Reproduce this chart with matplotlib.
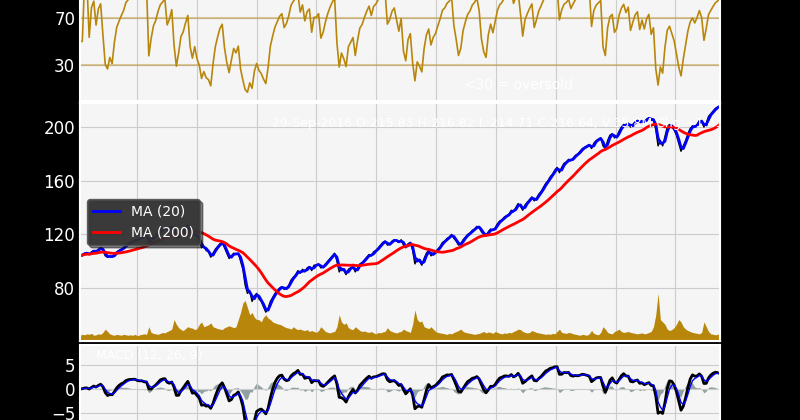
import numpy as np
import pandas as pd
import matplotlib
matplotlib.use("Agg")
import matplotlib.pyplot as plt
import matplotlib.dates as mdates

# Biweekly closes (2006 .. 29-Sep-2016)
close_2006 = [104,105,106,106,105,107,108,107,109,110,108,104,103,104,103,105,107,108,109,110,112,113,114,115,116,116]
close_2007 = [117,118,118,119,114,116,118,119,121,123,124,125,123,124,126,122,117,119,122,123,125,127,122,119,121,118]
close_2008 = [116,110,111,108,107,103,106,109,111,113,114,110,106,102,104,106,105,106,100,94,82,76,78,70,74,76]
close_2009 = [72,70,66,62,65,70,73,76,78,80,81,79,80,82,86,88,90,93,91,94,92,95,96,93,97,97]
close_2010 = [98,95,96,98,100,102,104,106,100,92,95,93,90,94,95,96,92,95,98,99,101,103,105,104,107,108]
close_2011 = [110,112,114,115,112,113,115,116,115,114,116,112,110,113,114,108,98,102,100,97,102,106,108,104,106,107]
close_2012 = [109,111,114,115,117,118,120,117,115,112,113,116,118,120,121,123,124,126,125,122,120,119,122,124,123,125]
close_2013 = [128,130,131,133,134,135,138,137,140,143,141,138,142,144,146,148,145,147,150,152,155,158,160,163,165,168]
close_2014 = [170,166,170,173,174,176,175,177,179,180,182,184,185,186,187,184,188,190,191,192,186,184,190,194,195,192]
close_2015 = [193,197,200,202,201,203,200,202,204,205,203,205,204,206,207,205,206,198,186,190,186,193,200,202,200,198]
close_2016 = [194,188,182,186,190,195,199,201,200,202,205,204,200,203,208,210,212,214,215,216]

vol_2006 = [12,14,13,15,14,16,12,13,15,14,18,25,20,15,13,12,14,13,12,14,13,12,13,12,14,11]
vol_2007 = [13,14,15,14,30,18,16,15,14,16,18,17,20,22,25,45,35,28,24,22,26,30,28,27,24,26]
vol_2008 = [35,40,30,32,34,38,30,28,26,25,24,28,30,32,30,28,30,45,60,80,85,70,55,60,50,45]
vol_2009 = [45,40,50,55,48,45,40,38,36,35,33,30,28,27,25,30,26,24,25,23,22,24,20,22,20,18]
vol_2010 = [22,30,25,20,18,17,19,20,30,55,40,35,38,28,25,24,30,26,22,20,21,19,18,20,17,15]
vol_2011 = [18,17,19,20,28,22,20,18,17,19,20,25,22,20,18,35,65,45,40,42,30,28,26,30,25,20]
vol_2012 = [18,17,16,15,14,16,15,18,20,22,25,20,18,17,16,15,14,15,16,18,20,17,19,18,16,20]
vol_2013 = [18,16,15,17,16,18,17,20,22,25,24,20,18,17,18,22,20,18,17,16,15,14,15,14,16,15]
vol_2014 = [20,25,18,17,16,18,17,15,14,13,12,14,13,12,15,22,16,14,13,18,30,25,18,16,15,20]
vol_2015 = [22,25,20,18,19,20,18,17,16,15,16,17,15,16,18,20,30,55,100,45,40,35,25,22,24,28]
vol_2016 = [35,45,40,30,25,22,20,18,17,16,15,18,40,30,20,15,14,13,14,16]

close = np.array(close_2006+close_2007+close_2008+close_2009+close_2010+close_2011+
                 close_2012+close_2013+close_2014+close_2015+close_2016, float)
volume = np.array(vol_2006+vol_2007+vol_2008+vol_2009+vol_2010+vol_2011+
                  vol_2012+vol_2013+vol_2014+vol_2015+vol_2016, float)
n = min(len(close), len(volume))
close, volume = close[:n], volume[:n]
dates = pd.date_range(end="2016-09-29", periods=n, freq="14D")

s = pd.Series(close)
ma20 = s.rolling(2, min_periods=1).mean().values
ma200 = s.rolling(18, min_periods=1).mean().values
delta = s.diff().fillna(0)
up = delta.clip(lower=0).ewm(span=9).mean()
dn = (-delta.clip(upper=0)).ewm(span=9).mean()
rsi = (100 - 100/(1 + up/(dn+1e-9))).values
rsi[:2] = 50
ema_f = s.ewm(span=3).mean(); ema_s = s.ewm(span=7).mean()
macd = (ema_f - ema_s).values
ema9 = pd.Series(macd).ewm(span=3).mean().values

fig = plt.figure(figsize=(8, 4.2), dpi=100, facecolor='black')
W, H = 800, 420
def rect(top, bottom):
    return [0.1, (H-bottom)/H, 0.8, (bottom-top)/H]
face = '#f5f5f5'
ax1 = fig.add_axes(rect(-18, 101), facecolor=face)
ax2 = fig.add_axes(rect(103, 341), facecolor=face, sharex=ax1)
ax3 = fig.add_axes(rect(345, 440), facecolor=face, sharex=ax1)

gold = '#b8860b'
ax1.plot(dates, rsi, color=gold, lw=1.2)
ax1.axhline(70, color=gold, alpha=0.4, lw=1.5)
ax1.axhline(30, color=gold, alpha=0.4, lw=1.5)
ax1.set_ylim(0, 100)
ax1.set_yticks([30, 70])
ax1.text(0.6, 0.9, '>70 = overbought', color='white', transform=ax1.transAxes, fontsize=10)
ax1.text(0.6, 0.1, '<30 = oversold', color='white', transform=ax1.transAxes, fontsize=10)

ax2.plot(dates, close, color='black', lw=1)
ax2.plot(dates, ma20, color='blue', lw=2, label='MA (20)')
ax2.plot(dates, ma200, color='red', lw=2, label='MA (200)')
ax2.set_ylim(40.5, 218)
ax2.set_yticks([80, 120, 160, 200])
ax2.text(0.3, 0.9, '29-Sep-2016 O:215.83 H:216.82 L:214.71 C:216.64, V:35.8M Chg:+1.41',
         color='white', transform=ax2.transAxes, fontsize=9, clip_on=True)
leg = ax2.legend(loc='center left', shadow=True, fancybox=True, fontsize=10,
                 facecolor='#333333', edgecolor='#555555', labelcolor='white')
leg.get_frame().set_alpha(0.9)
axv = ax2.twinx()
axv.fill_between(dates, volume, 0, color=gold, lw=0)
axv.set_ylim(0, 5*volume.max())
axv.set_yticks([])

ax3.fill_between(dates, macd-ema9, 0, color='darkslategrey', alpha=0.5, lw=0)
ax3.plot(dates, macd, color='black', lw=2)
ax3.plot(dates, ema9, color='blue', lw=1)
ax3.set_ylim(-10.6, 9.2)
ax3.set_yticks([-5, 0, 5])
ax3.set_yticklabels(['\u22125', '0', '5'])
ax3.text(0.025, 0.85, 'MACD (12, 26, 9)', color='white', transform=ax3.transAxes, fontsize=9)

for ax in (ax1, ax2, ax3, axv):
    ax.grid(True, color='#cccccc', lw=0.8)
    ax.tick_params(colors='white', labelsize=12, length=0)
    ax.xaxis.set_major_locator(mdates.YearLocator())
    ax.tick_params(axis='x', labelbottom=False)
    for sp in ax.spines.values():
        sp.set_color('white')
        sp.set_linewidth(1.5)
axv.grid(False)
ax1.set_xlim(dates[0], dates[-1])

fig.savefig('out.png', dpi=100, facecolor='black')
